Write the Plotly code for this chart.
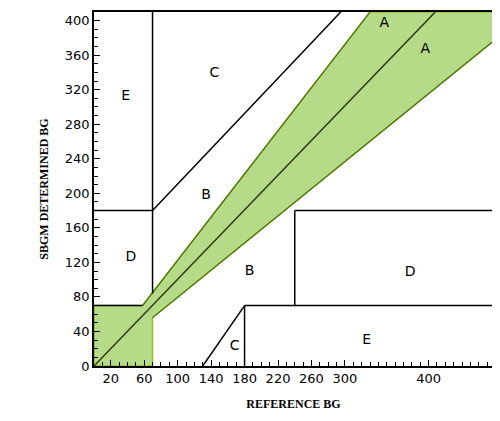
import plotly.graph_objects as go

green_x = [0, 70, 70, 477, 477, 330, 58, 0, 0]
green_y = [0, 0, 56, 376, 410, 410, 70, 70, 0]
diag_x = [0, 408]
diag_y = [0, 410]
segments = [
    ([70, 70], [84, 410]),
    ([0, 70], [180, 180]),
    ([70, 295], [180, 410]),
    ([0, 58], [70, 70]),
    ([130, 180], [0, 70]),
    ([180, 477], [70, 70]),
    ([180, 180], [0, 70]),
    ([240, 240], [70, 180]),
    ([240, 477], [180, 180]),
]
zone_labels = ["A", "A", "C", "E", "B", "D", "B", "D", "C", "E"]
label_x = [347, 396, 144, 38, 134, 44, 186, 378, 168, 326]
label_y = [397, 366, 339, 312, 198, 126, 110, 108, 23, 30]
xticks = [20, 60, 100, 140, 180, 220, 260, 300, 400]
yticks = [0, 40, 80, 120, 160, 200, 240, 280, 320, 360, 400]

fig = go.Figure()
fig.add_trace(go.Scatter(x=green_x, y=green_y, fill="toself", fillcolor="#b5da88",
                         line=dict(color="#8fbf2a", width=1.5), mode="lines", hoverinfo="skip"))
fig.add_trace(go.Scatter(x=[70, 477], y=[56, 376], mode="lines", line=dict(color="#4a6a10", width=1.2)))
fig.add_trace(go.Scatter(x=[58, 330], y=[70, 410], mode="lines", line=dict(color="#4a6a10", width=1.2)))
fig.add_trace(go.Scatter(x=diag_x, y=diag_y, mode="lines", line=dict(color="#2a3a10", width=1.5)))
for sx, sy in segments:
    fig.add_trace(go.Scatter(x=sx, y=sy, mode="lines", line=dict(color="black", width=1.5)))
fig.add_trace(go.Scatter(x=label_x, y=label_y, text=zone_labels, mode="text",
                         textfont=dict(family="DejaVu Sans", size=14, color="black")))

axis_common = dict(showgrid=False, zeroline=False, showline=True, linecolor="black", linewidth=1.5,
                   mirror=True, ticks="inside", ticklen=6, tickcolor="black",
                   minor=dict(ticks="inside", ticklen=4, dtick=10, tickcolor="black"),
                   tickfont=dict(family="DejaVu Sans", size=13, color="black"))
fig.update_layout(
    width=500, height=421, showlegend=False, plot_bgcolor="white", paper_bgcolor="white",
    margin=dict(l=86, r=15, t=2, b=63),
    xaxis=dict(range=[0, 477], tickvals=xticks, title=dict(text="<b>REFERENCE BG</b>", standoff=14,
               font=dict(family="Liberation Serif", size=12, color="black")), **axis_common),
    yaxis=dict(range=[0, 410], tickvals=yticks, title=dict(text="<b>SBGM DETERMINED BG</b>", standoff=14,
               font=dict(family="Liberation Serif", size=12, color="black")), **axis_common),
)
fig.write_html("out.html")
